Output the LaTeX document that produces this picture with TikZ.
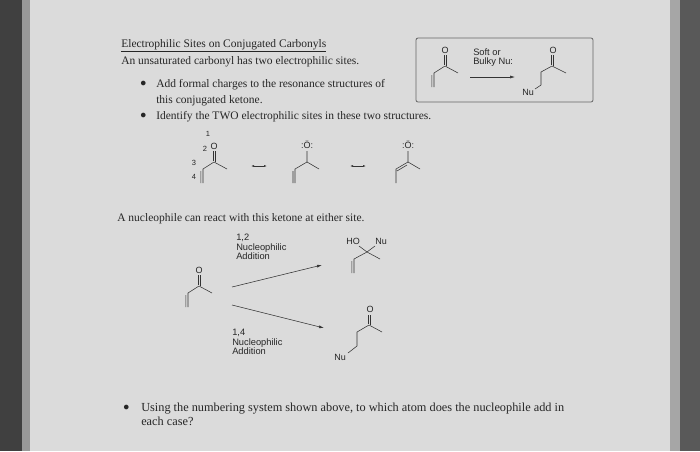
\documentclass[tikz,border=0pt]{standalone}
\usepackage{fontspec}
\setmainfont{Liberation Serif}
\newfontfamily\sanss{Liberation Sans}
\usetikzlibrary{arrows.meta}
\begin{document}
\begin{tikzpicture}[x=1pt,y=-1pt,line width=0.55pt,
  txt/.style={anchor=base west,inner sep=0,font=\fontsize{11.5}{13}\selectfont,text=black!85},
  txtb/.style={txt,font=\fontsize{12.3}{14}\selectfont},
  sf/.style={anchor=north west,inner sep=0,align=left,font=\sanss\fontsize{9.3}{9.5}\selectfont,text=black!85},
  atm/.style={inner sep=0.5pt,font=\sanss\fontsize{9}{10}\selectfont,text=black!85},
  num/.style={atm,font=\sanss\fontsize{7.5}{8}\selectfont},
  bd/.style={draw=black!80},
  rarr/.style={draw=black!80,-{Latex[length=5pt,width=3pt]}},
  res/.style={draw=black!80,{Latex[length=3pt,width=2pt]}-{Latex[length=3pt,width=2pt]}},
  pics/mvk/.style={code={
    \draw[bd] (0,0)--(0,-11) (-2.2,-1)--(-2.2,-11);
    \draw[bd] (-1,0)--(12,7) (-1,0)--(-12,7)--(-12,21) (-14.2,9)--(-14.2,21);
  }}]
\useasboundingbox (0,0) rectangle (700,451);
\fill[black!14] (0,0) rectangle (700,451);
\fill[black!75] (0,0) rectangle (22,451);
\fill[black!65] (680,0) rectangle (700,451);
\fill[black!40] (22,0) rectangle (30,451);
\fill[black!35] (670,0) rectangle (680,451);
\node[txt] (title) at (121,47) {\underline{Electrophilic Sites on Conjugated Carbonyls}};
\node[txt] (l1) at (121,64) {An unsaturated carbonyl has two electrophilic sites.};
\node[txt] at (140,86) {$\bullet$};
\node[txt] (l2) at (156,87) {Add formal charges to the resonance structures of};
\node[txt] (l3) at (156,103) {this conjugated ketone.};
\node[txt] at (140,118) {$\bullet$};
\node[txt] (l4) at (156,119) {Identify the TWO electrophilic sites in these two structures.};
\node[txt] (l5) at (117,221) {A nucleophile can react with this ketone at either site.};
\node[txtb] at (123,410) {$\bullet$};
\node[txtb] (l6) at (141,411) {Using the numbering system shown above, to which atom does the nucleophile add in};
\node[txtb] (l7) at (141,425) {each case?};
% box
\draw[black!60,rounded corners=2pt,line width=0.8pt] (416,38) rectangle (593,102);
\pic at (446,66) {mvk};
\node[atm] (o0) at (445,50) {O};
\node[sf] (soft) at (473,48) {Soft or\\Bulky Nu:};
\coordinate (b1) at (470,77); \coordinate (b2) at (515,77);
\draw[rarr] (b1)--(b2);
\node[atm] (o1) at (553,50) {O};
\draw[bd] (553,55)--(553,66) (550.8,55)--(550.8,65);
\draw[bd] (552,66)--(566,73) (552,66)--(541,72)--(541,85)--(535,89);
\node[atm] (nu1) at (528,92) {Nu};
% resonance
\pic at (215,162) {mvk};
\node[atm] (o2) at (214,146) {O};
\node[num] (n1) at (208,134) {1};
\node[num] (n2) at (205,149) {2};
\node[num] (n3) at (194,163) {3};
\node[num] (n4) at (194,177) {4};
\node[atm] (o3) at (307,145) {:\"O:};
\draw[bd] (307,151)--(307,162)--(319,169) (307,162)--(295,169)--(295,183) (293,171)--(293,183);
\node[atm] (o4) at (408,145) {:\"O:};
\draw[bd] (408,151)--(408,162)--(420,169) (408,162)--(396,169)--(396,183) (407,165)--(397,171);
\coordinate (r1) at (251,166); \coordinate (r2) at (267,166);
\coordinate (r3) at (350,166); \coordinate (r4) at (366,166);
\draw[res] (r1)--(r2);
\draw[res] (r3)--(r4);
% lower
\pic at (200,286) {mvk};
\node[atm] (o5) at (199,270) {O};
\node[sf] (a12) at (236,234) {1,2\\Nucleophilic\\Addition};
\node[sf] (a14) at (232,329) {1,4\\Nucleophilic\\Addition};
\coordinate (s1) at (232,287); \coordinate (e1) at (322,265);
\coordinate (s2) at (232,305); \coordinate (e2) at (324,328);
\draw[rarr] (s1)--(e1);
\draw[rarr] (s2)--(e2);
\node[atm] (ho) at (353,241) {HO};
\node[atm] (nu2) at (381,241) {Nu};
\draw[bd] (359,246)--(367,252)--(375,246) (367,252)--(380,259) (367,252)--(354,259)--(354,273) (351.8,261)--(351.8,273);
\node[atm] (o6) at (370,309) {O};
\draw[bd] (370,315)--(370,325) (367.8,315)--(367.8,324);
\draw[bd] (369,325)--(382,332) (369,325)--(357,332)--(357,346)--(348,353);
\node[atm] (nu3) at (340,357) {Nu};
\end{tikzpicture}
\end{document}
